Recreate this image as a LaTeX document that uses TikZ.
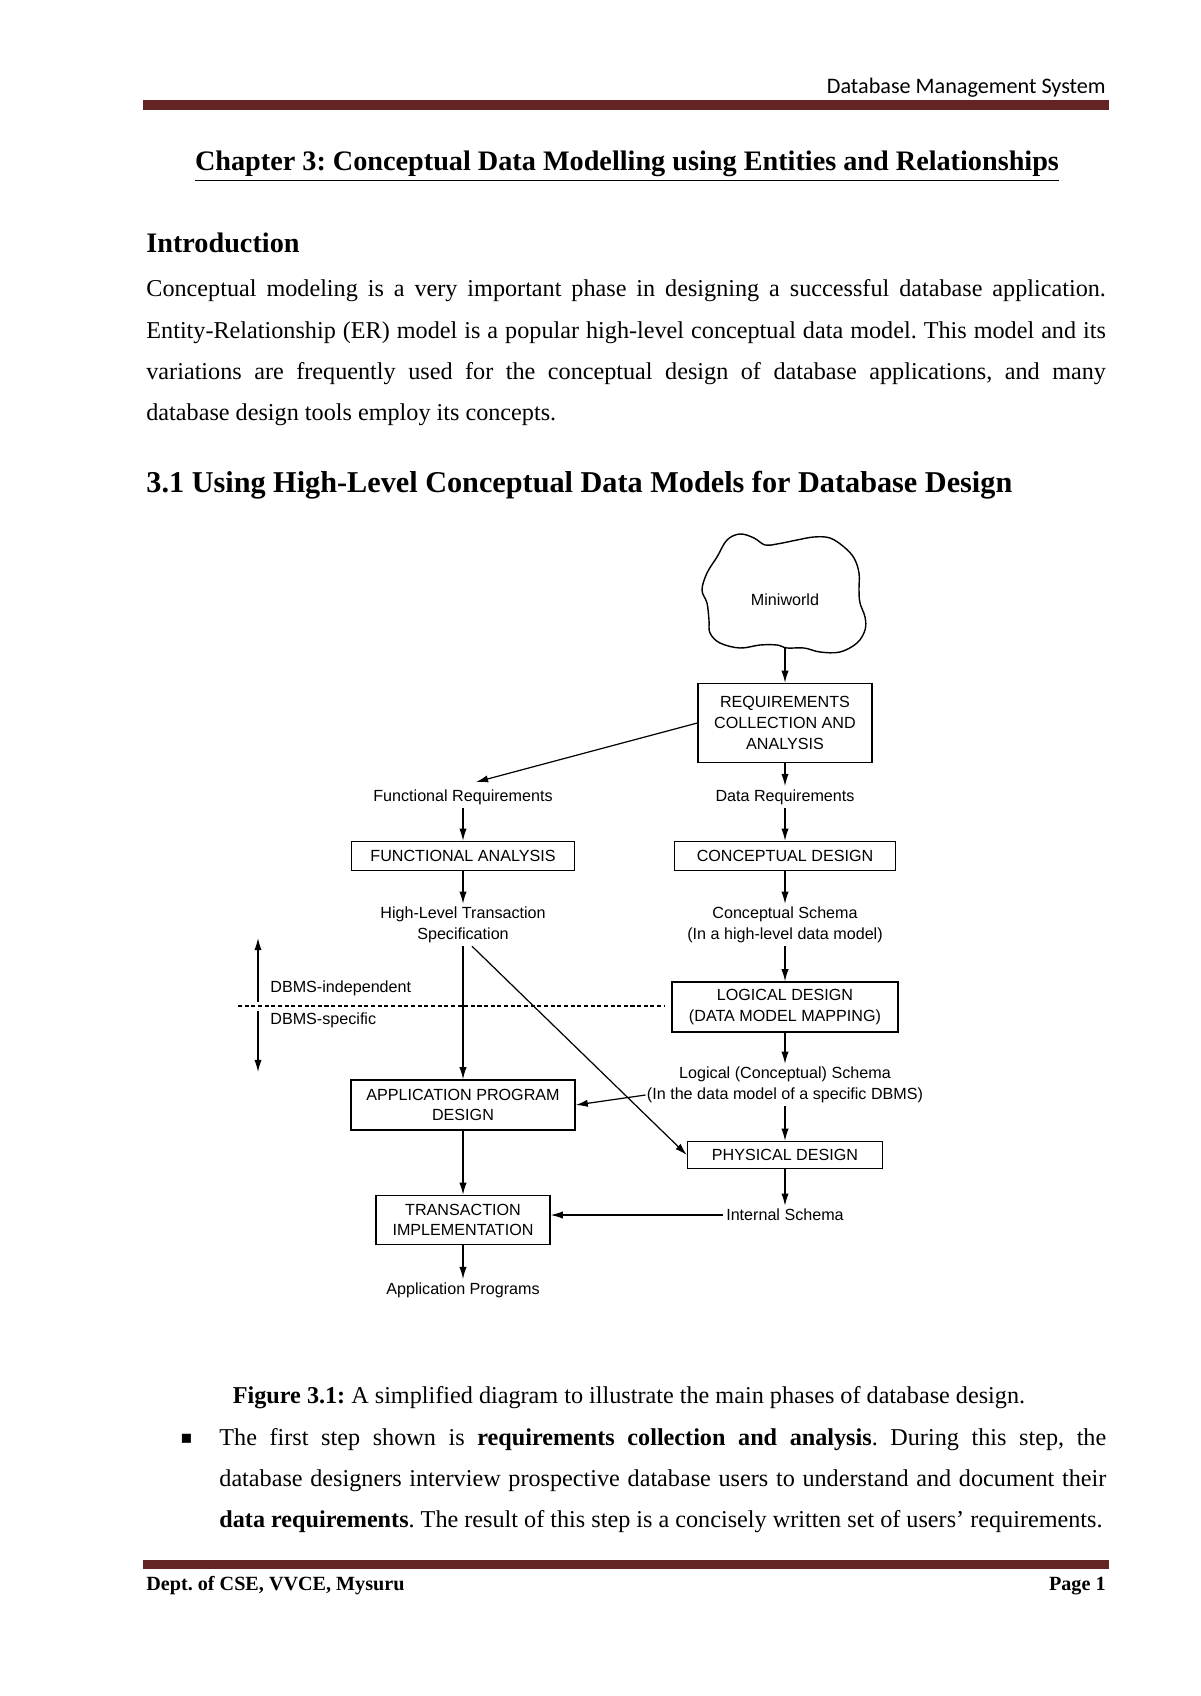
\documentclass[tikz,border=0pt]{standalone}
\usepackage{fontspec}
\setmainfont{Liberation Serif}
\newfontfamily\diagfont{Liberation Sans}
\newfontfamily\calfont{Carlito}
\newfontfamily\symfont{DejaVu Sans}
\usetikzlibrary{arrows.meta,calc}
\definecolor{barred}{HTML}{632423}
\frenchspacing
\newcommand{\jline}[1]{\makebox[476pt][s]{#1}}
\newcommand{\bline}[1]{\makebox[440pt][s]{#1}}

\tikzset{
  stage/.style={draw, line width=0.7pt, align=center, inner sep=0pt,
    font=\diagfont\fontsize{8}{10.2}\selectfont},
  note/.style={align=center, inner sep=1.5pt,
    font=\diagfont\fontsize{8}{10.2}\selectfont},
  body/.style={anchor=base west, inner sep=0pt, font=\fontsize{12}{14}\selectfont},
}

\begin{document}
\begin{tikzpicture}[x=0.4961pt, y=-0.4961pt, >={Latex[length=6pt,width=3.6pt]}]
\useasboundingbox (0,0) rectangle (1200,1696);

\node[anchor=base east, inner sep=0pt, font=\calfont\fontsize{11}{13}\selectfont] (head) at (1106,94) {Database Management System};
\fill[barred] (143,100) rectangle (1109,110);

\node[anchor=base, inner sep=0pt, font=\bfseries\fontsize{14}{16}\selectfont] (title) at (627,171)
  {\underline{Chapter 3: Conceptual Data Modelling using Entities and Relationships}};
\node[body, font=\bfseries\fontsize{14}{16}\selectfont] (intro) at (146,253) {Introduction};
\foreach \t [count=\i] in {
  {\jline{Conceptual modeling is a very important phase in designing a successful database application.}},
  {\jline{Entity-Relationship (ER) model is a popular high-level conceptual data model. This model and its}},
  {\jline{variations are frequently used for the conceptual design of database applications, and many}},
  {database design tools employ its concepts.}}
  \node[body] (par\i) at (146,256+41*\i) {\t};
\node[body, font=\bfseries\fontsize{15}{18}\selectfont] (sec) at (146,492)
  {3.1 Using High-Level Conceptual Data Models for Database Design};

\draw[line width=0.7pt] plot[smooth cycle, tension=0.6] coordinates {
  (717,557) (727,540) (740,534) (754,538) (765,545) (777,544) (797,540) (814,537)
  (830,538) (844,547) (854,558) (859,573) (859,590) (860,603) (865,617) (865,630)
  (857,643) (840,652) (820,652) (804,648) (787,648) (777,645) (760,645) (740,648)
  (720,643) (710,633) (709,620) (707,603) (702,590) (707,573)};
\node[note] (mini) at (785,600) {Miniworld};
\coordinate (cloudbot) at (785,648);

\node[stage, minimum width=86.3pt, minimum height=39.2pt] (req) at (785,723)
  {REQUIREMENTS\\COLLECTION AND\\ANALYSIS};
\node[note] (fr) at (463,797) {Functional Requirements};
\node[note] (dr) at (785,797) {Data Requirements};
\node[stage, minimum width=110.6pt, minimum height=14.4pt] (fa) at (463,856) {FUNCTIONAL ANALYSIS};
\node[stage, minimum width=109.6pt, minimum height=14.4pt] (cd) at (785,856) {CONCEPTUAL DESIGN};
\node[note] (hlts) at (463,925) {High-Level Transaction\\Specification};
\node[note] (cs) at (785,925) {Conceptual Schema\\(In a high-level data model)};
\node[stage, minimum width=112.1pt, minimum height=24.8pt] (ld) at (785,1007)
  {LOGICAL DESIGN\\(DATA MODEL MAPPING)};
\node[note] (lcs) at (785,1085) {Logical (Conceptual) Schema\\(In the data model of a specific DBMS)};
\node[stage, minimum width=111.1pt, minimum height=24.8pt] (apd) at (463,1105)
  {APPLICATION PROGRAM\\DESIGN};
\node[stage, minimum width=96.7pt, minimum height=13.4pt] (pd) at (785,1155) {PHYSICAL DESIGN};
\node[note] (is) at (785,1215) {Internal Schema};
\node[stage, minimum width=86.3pt, minimum height=24.3pt] (ti) at (463,1220)
  {TRANSACTION\\IMPLEMENTATION};
\node[note] (ap) at (463,1290) {Application Programs};

\node[note, anchor=west, inner sep=0pt] (indep) at (270,988) {DBMS-independent};
\node[note, anchor=west, inner sep=0pt] (spec) at (270,1020) {DBMS-specific};
\coordinate (indtop) at (258,938);
\coordinate (indbot) at (258,1002);
\coordinate (spctop) at (258,1011);
\coordinate (spcbot) at (258,1072);
\coordinate (dashl) at (238,1006);
\draw[line width=0.6pt, dash pattern=on 2pt off 1.3pt, shorten >=3.5pt] (dashl) -- (dashl -| ld.west);

\path[->, line width=0.6pt]
(cloudbot) edge (req)
(req.west) edge ($(fr.north)+(13,-4)$)
(req) edge (dr)
(fr) edge (fa)
(dr) edge (cd)
(fa) edge (hlts)
(cd) edge (cs)
(hlts) edge (apd)
($(hlts.south)+(9,0)$) edge (pd.west)
(cs) edge (ld)
(ld) edge (lcs)
($(lcs.west)+(2,10)$) edge (apd.east)
(lcs) edge (pd)
(pd) edge (is)
(is.west) edge (ti.east |- is.west)
(apd) edge (ti)
(ti) edge (ap)
(indbot) edge (indtop)
(spctop) edge (spcbot);

\node[anchor=base, inner sep=0pt, font=\fontsize{12}{14}\selectfont] (cap) at (629,1403)
  {\textbf{Figure 3.1:} A simplified diagram to illustrate the main phases of database design.};
\node[anchor=base west, inner sep=0pt, font=\symfont\fontsize{9}{11}\selectfont] (bul) at (180,1443) {▪};
\node[body] (bl1) at (219,1445) {\bline{The first step shown is \textbf{requirements collection and analysis}. During this step, the}};
\node[body] (bl2) at (219,1486) {\bline{database designers interview prospective database users to understand and document their}};
\node[body] (bl3) at (219,1527) {\textbf{data requirements}. The result of this step is a concisely written set of users' requirements.};

\fill[barred] (143,1560) rectangle (1109,1569);
\node[anchor=base west, inner sep=0pt, font=\bfseries\fontsize{10}{12}\selectfont] (dept) at (146,1590) {Dept. of CSE, VVCE, Mysuru};
\node[anchor=base east, inner sep=0pt, font=\bfseries\fontsize{10}{12}\selectfont] (page) at (1106,1590) {Page 1};
\end{tikzpicture}
\end{document}
